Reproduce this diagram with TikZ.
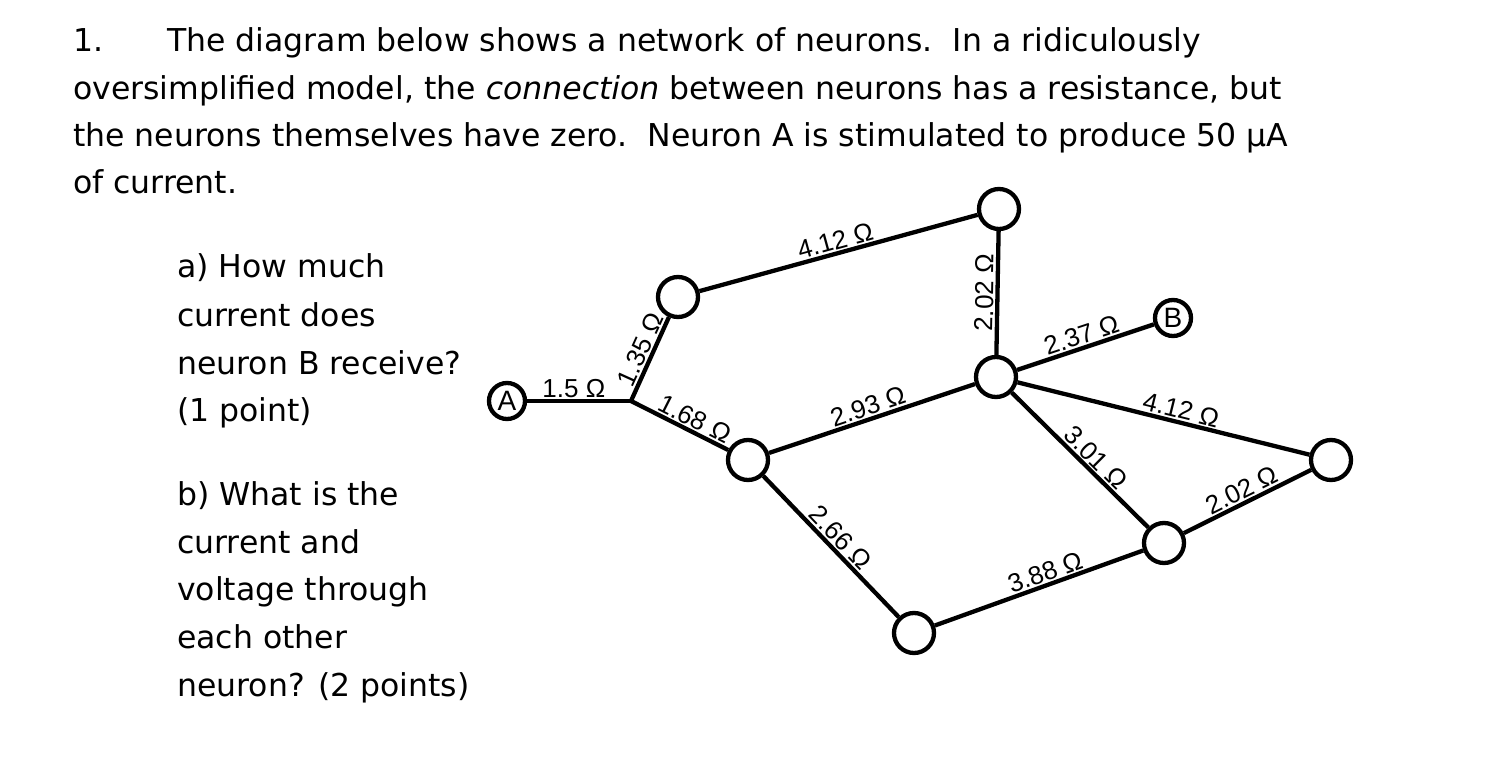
\documentclass[tikz,border=0pt]{standalone}
\usepackage{fontspec}
\setmainfont{DejaVu Sans}
\newfontfamily\lab{Liberation Sans}
\begin{document}
\begin{tikzpicture}[x=1pt,y=-1pt,
  neu/.style={circle,draw,line width=4.3pt,minimum size=40pt,inner sep=0pt,font=\lab\fontsize{28}{28}\selectfont},
  ed/.style={line width=4.3pt},
  el/.style={font=\lab\fontsize{26}{26}\selectfont,sloped,above,inner sep=1.5pt},
  tx/.style={anchor=base west,inner sep=0pt,font=\fontsize{31.5}{31.5}\selectfont}]
\useasboundingbox (0,0) rectangle (1492,762);
\node[tx] (t1) at (73,52) {1.};
\node[tx] (t2) at (167,52) {The diagram below shows a network of neurons.\ \ In a ridiculously};
\node[tx] (t3) at (73,100) {oversimplified model, the \textit{connection} between neurons has a resistance, but};
\node[tx] (t4) at (73,147) {the neurons themselves have zero.\ \ Neuron A is stimulated to produce 50 µA};
\node[tx] (t5) at (73,194) {of current.};
\node[tx] (q1) at (177,278) {a) How much};
\node[tx] (q2) at (177,326) {current does};
\node[tx] (q3) at (177,374) {neuron B receive?};
\node[tx] (q4) at (177,421) {(1 point)};
\node[tx] (q5) at (177,505) {b) What is the};
\node[tx] (q6) at (177,553) {current and};
\node[tx] (q7) at (177,600) {voltage through};
\node[tx] (q8) at (177,648) {each other};
\node[tx] (q9) at (177,696) {neuron? (2 points)};
\node[neu,minimum size=36pt] (A) at (507,401) {A};
\coordinate (J) at (631,401);
\node[neu] (N1) at (678,297) {};
\node[neu] (N2) at (999,209) {};
\node[neu] (N3) at (748,460) {};
\node[neu] (N4) at (996,377) {};
\node[neu,minimum size=36pt] (B) at (1173,318) {B};
\node[neu] (N5) at (1331,460) {};
\node[neu] (N6) at (1164,543) {};
\node[neu] (N7) at (914,633) {};
\draw[ed] (A) -- node[el,pos=0.45]{1.5 Ω} (J);
\draw[ed] (J) -- node[el,pos=0.55]{1.35 Ω} (N1);
\draw[ed] (J) -- node[el,pos=0.6]{1.68 Ω} (N3);
\draw[ed] (N1) -- node[el]{4.12 Ω} (N2);
\draw[ed] (N2) -- node[el]{2.02 Ω} (N4);
\draw[ed] (N3) -- node[el]{2.93 Ω} (N4);
\draw[ed] (N4) -- node[el]{2.37 Ω} (B);
\draw[ed] (N4) -- node[el,pos=0.55]{4.12 Ω} (N5);
\draw[ed] (N4) -- node[el,pos=0.55]{3.01 Ω} (N6);
\draw[ed] (N6) -- node[el]{2.02 Ω} (N5);
\draw[ed] (N3) -- node[el]{2.66 Ω} (N7);
\draw[ed] (N7) -- node[el,pos=0.55]{3.88 Ω} (N6);
\end{tikzpicture}
\end{document}
